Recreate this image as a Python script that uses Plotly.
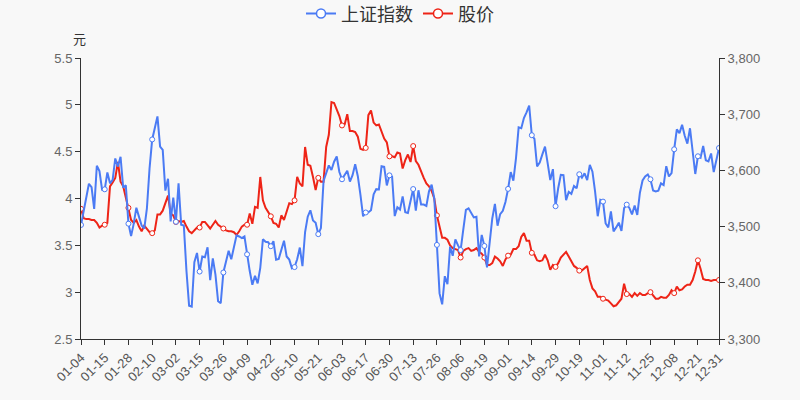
import datetime as dt
import plotly.graph_objects as go

# ---- data ----
holidays = ["2021-01-01", "2021-02-11", "2021-02-12", "2021-02-15", "2021-02-16", "2021-02-17",
            "2021-04-05", "2021-05-03", "2021-05-04", "2021-05-05", "2021-06-14",
            "2021-09-20", "2021-09-21", "2021-10-01", "2021-10-04", "2021-10-05",
            "2021-10-06", "2021-10-07"]

index_values = [
    # Jan
    3502.96, 3528.68, 3550.88, 3576.20, 3570.11, 3531.50, 3608.34, 3598.65, 3565.90, 3566.38,
    3596.22, 3577.00, 3583.09, 3621.26, 3606.75, 3624.24, 3569.43, 3573.34, 3505.18, 3483.07,
    # Feb
    3505.28, 3533.68, 3517.31, 3501.86, 3496.33, 3532.44, 3603.49, 3655.09, 3675.36, 3696.17,
    3642.44, 3636.36, 3564.08, 3585.05, 3509.08,
    # Mar
    3551.40, 3508.59, 3576.90, 3503.49, 3501.99, 3421.41, 3359.29, 3357.74, 3436.83, 3453.08,
    3419.95, 3446.73, 3445.55, 3463.07, 3404.66, 3443.44, 3414.41, 3367.06, 3363.59, 3418.33,
    3435.30, 3457.07, 3441.91,
    # Apr
    3466.33, 3484.39, 3482.48, 3479.63, 3482.56, 3450.68, 3420.95, 3396.47, 3412.54, 3398.99,
    3426.62, 3477.55, 3472.94, 3472.26, 3465.11, 3474.17, 3441.17, 3442.61, 3457.07, 3474.90,
    3446.86,
    # May
    3441.28, 3425.87, 3427.99, 3441.85, 3462.75, 3429.54, 3490.38, 3517.62, 3529.01, 3510.96,
    3506.94, 3486.56, 3497.28, 3581.34, 3593.36, 3608.85, 3600.78, 3615.48,
    # Jun
    3624.71, 3597.14, 3584.22, 3591.84, 3599.54, 3580.11, 3591.40, 3610.86, 3589.75, 3556.56,
    3518.33, 3525.10, 3525.60, 3529.18, 3557.41, 3566.65, 3566.22, 3607.56, 3606.37, 3573.18,
    3591.20,
    # Jul
    3588.78, 3518.76, 3534.32, 3530.26, 3553.72, 3525.50, 3524.09, 3547.84, 3566.83, 3528.50,
    3564.59, 3539.30, 3539.12, 3536.79, 3562.70, 3574.73, 3550.40, 3467.44, 3381.18, 3361.59,
    3411.72, 3397.36,
    # Aug
    3464.29, 3447.99, 3477.22, 3466.56, 3458.23, 3494.64, 3529.93, 3532.62, 3524.74, 3516.30,
    3517.34, 3446.98, 3485.29, 3465.55, 3427.33, 3477.13, 3514.47, 3540.38, 3501.66, 3522.16,
    3528.15, 3543.94,
    # Sep
    3567.10, 3597.04, 3581.73, 3621.86, 3676.59, 3675.19, 3693.13, 3703.11, 3715.37, 3662.60,
    3656.22, 3607.09, 3613.97, 3628.49, 3642.22, 3613.07, 3582.83, 3602.22, 3536.29, 3568.17,
    # Oct
    3592.17, 3591.71, 3546.94, 3561.76, 3558.28, 3572.37, 3568.14, 3593.15, 3587.00, 3594.78,
    3582.60, 3609.86, 3597.64, 3562.31, 3518.42, 3547.34,
    # Nov
    3544.48, 3505.63, 3498.54, 3526.87, 3491.57, 3498.63, 3507.00, 3492.46, 3532.79, 3539.10,
    3533.30, 3521.79, 3537.37, 3520.71, 3560.37, 3582.08, 3589.09, 3592.70, 3584.18, 3564.09,
    3562.70, 3563.89,
    # Dec
    3576.89, 3573.84, 3607.43, 3589.31, 3595.09, 3637.57, 3673.04, 3666.35, 3681.08, 3661.53,
    3647.63, 3675.02, 3632.36, 3593.60, 3625.13, 3622.62, 3643.34, 3618.05, 3615.97, 3630.11,
    3597.00, 3619.19, 3639.78,
]

price_values = [
    3.89, 3.79, 3.78, 3.78, 3.77, 3.77, 3.74, 3.69, 3.71, 3.72,
    3.74, 4.13, 4.17, 4.22, 4.39, 4.18, 4.13, 4.02, 3.90, 3.77,
    3.74, 3.77, 3.70, 3.65, 3.71, 3.67, 3.64, 3.63, 3.66, 3.83,
    3.83, 3.87, 3.95, 4.03, 3.84, 3.82, 3.75, 3.76, 3.75, 3.76,
    3.70, 3.65, 3.63, 3.66, 3.69, 3.69, 3.75, 3.75, 3.71, 3.68,
    3.72, 3.76, 3.72, 3.70, 3.68, 3.66, 3.65, 3.65, 3.64, 3.61,
    3.65, 3.70, 3.72, 3.72, 3.84, 3.73, 3.91, 3.90, 4.23, 3.98,
    3.90, 3.85, 3.81, 3.74, 3.73, 3.69, 3.82, 3.77, 3.85, 3.95,
    3.94, 3.98, 4.23, 4.16, 4.13, 4.55, 4.36, 4.35, 4.23, 4.09,
    4.22, 4.18, 4.18, 4.55, 4.68, 5.03, 5.02, 4.95, 4.88, 4.78,
    4.79, 4.90, 4.72, 4.72, 4.71, 4.66, 4.53, 4.52, 4.54, 4.89,
    4.94, 4.81, 4.78, 4.79, 4.71, 4.64, 4.60, 4.45, 4.45, 4.44,
    4.49, 4.48, 4.32, 4.41, 4.47, 4.39, 4.56, 4.40, 4.36, 4.28,
    4.22, 4.16, 4.13, 4.08, 4.00, 3.82, 3.71, 3.58, 3.58, 3.56,
    3.50, 3.47, 3.46, 3.45, 3.37, 3.44, 3.46, 3.47, 3.44, 3.45,
    3.47, 3.43, 3.41, 3.37, 3.29, 3.29, 3.31, 3.38, 3.36, 3.33,
    3.28, 3.35, 3.39, 3.40, 3.46, 3.46, 3.49, 3.59, 3.63, 3.55,
    3.55, 3.42, 3.40, 3.34, 3.33, 3.34, 3.40, 3.34, 3.24, 3.29,
    3.27, 3.31, 3.37, 3.40, 3.43, 3.38, 3.33, 3.28, 3.26, 3.23,
    3.23, 3.26, 3.28, 3.13, 3.04, 3.01, 2.95, 2.95, 2.93, 2.92,
    2.91, 2.88, 2.85, 2.86, 2.90, 2.93, 3.09, 2.98, 2.98, 2.95,
    2.99, 2.96, 2.99, 2.97, 2.97, 2.99, 3.00, 2.97, 2.93, 2.93,
    2.95, 2.94, 2.94, 2.97, 3.02, 2.99, 3.06, 3.02, 3.03, 3.06,
    3.08, 3.08, 3.13, 3.22, 3.34, 3.25, 3.14, 3.13, 3.13, 3.12,
    3.13, 3.13, 3.13,
]

tick_labels = ["01-04", "01-15", "01-28", "02-10", "03-02", "03-15", "03-26", "04-09",
               "04-22", "05-10", "05-21", "06-03", "06-17", "06-30", "07-13", "07-26",
               "08-06", "08-19", "09-01", "09-14", "09-29", "10-19", "11-01", "11-12",
               "11-25", "12-08", "12-21", "12-31"]

series_names = ["上证指数", "股价"]
left_ticks = [2.5, 3, 3.5, 4, 4.5, 5, 5.5]
right_ticks = [3300, 3400, 3500, 3600, 3700, 3800]

# trading days of 2021
hol = set(holidays)
dates = []
d = dt.date(2021, 1, 1)
while d.year == 2021:
    if d.weekday() < 5 and d.isoformat() not in hol:
        dates.append(d.strftime("%m-%d"))
    d += dt.timedelta(days=1)

n = len(dates)
assert n == len(index_values) == len(price_values), (n, len(index_values), len(price_values))

marker_idx = [i for i in range(n) if i % 9 == 0 or i == n - 1]
mk_dates = [dates[i] for i in marker_idx]

BLUE = "#4b7bf4"
RED = "#ee2417"
BG = "#f8f8f8"
FONT = "Liberation Sans, Arial, Noto Sans CJK SC, sans-serif"

fig = go.Figure()
# lines
fig.add_trace(go.Scatter(x=dates, y=index_values, mode="lines", yaxis="y2",
                         line=dict(color=BLUE, width=2), showlegend=False, hoverinfo="skip"))
fig.add_trace(go.Scatter(x=dates, y=price_values, mode="lines", yaxis="y",
                         line=dict(color=RED, width=2), showlegend=False, hoverinfo="skip"))
# sampled hollow markers
fig.add_trace(go.Scatter(x=mk_dates, y=[index_values[i] for i in marker_idx], mode="markers",
                         yaxis="y2", showlegend=False,
                         marker=dict(symbol="circle", size=5, color="white",
                                     line=dict(color=BLUE, width=1))))
fig.add_trace(go.Scatter(x=mk_dates, y=[price_values[i] for i in marker_idx], mode="markers",
                         yaxis="y", showlegend=False,
                         marker=dict(symbol="circle", size=5, color="white",
                                     line=dict(color=RED, width=1))))
# legend entries
for name, col in zip(series_names, [BLUE, RED]):
    fig.add_trace(go.Scatter(x=[None], y=[None], mode="lines+markers", name=name,
                             line=dict(color=col, width=2),
                             marker=dict(symbol="circle", size=9, color="white",
                                         line=dict(color=col, width=1.5))))

axis_font = dict(family=FONT, size=13, color="#666")

fig.update_layout(
    width=800, height=400,
    margin=dict(l=81, r=81, t=58, b=61, autoexpand=False),
    paper_bgcolor=BG, plot_bgcolor=BG,
    font=dict(family=FONT, color="#333"),
    showlegend=True,
    legend=dict(orientation="h", x=0.5, xanchor="center", y=1.157, yref="paper",
                yanchor="middle", font=dict(size=18, color="#333", family="Noto Sans CJK SC, sans-serif"),
                itemwidth=30, bgcolor="rgba(0,0,0,0)"),
    xaxis=dict(type="category", categoryorder="array", categoryarray=dates,
               range=[0, n - 1], tickmode="array", tickvals=tick_labels, ticktext=tick_labels,
               tickangle=-45, ticks="outside", ticklen=5, tickcolor="#333",
               showline=True, linecolor="#333", linewidth=1, showgrid=False, zeroline=False,
               automargin=False, tickfont=dict(family=FONT, size=13, color="#555")),
    yaxis=dict(range=[2.5, 5.5], tickmode="array", tickvals=left_ticks,
               ticktext=[f"{v:g}" for v in left_ticks], automargin=False,
               ticks="outside", ticklen=5, tickcolor="#333", showline=True, linecolor="#333",
               linewidth=1, showgrid=False, zeroline=False, tickfont=axis_font),
    yaxis2=dict(range=[3300, 3800], overlaying="y", side="right", tickmode="array",
                tickvals=right_ticks, ticktext=[f"{v:,}" for v in right_ticks], automargin=False,
                ticks="outside", ticklen=5, tickcolor="#333", showline=True, linecolor="#333",
                linewidth=1, showgrid=False, zeroline=False, tickfont=axis_font),
    annotations=[dict(text="元", xref="paper", yref="paper", x=0, y=1, xshift=-2, yshift=20,
                      xanchor="center", yanchor="middle", showarrow=False,
                      font=dict(size=13, color="#333", family="Noto Sans CJK SC, sans-serif"))],
)

fig.write_html("out.html", config={"displayModeBar": False},
               post_script="document.body.style.margin='0';document.body.style.background='#f8f8f8';")
